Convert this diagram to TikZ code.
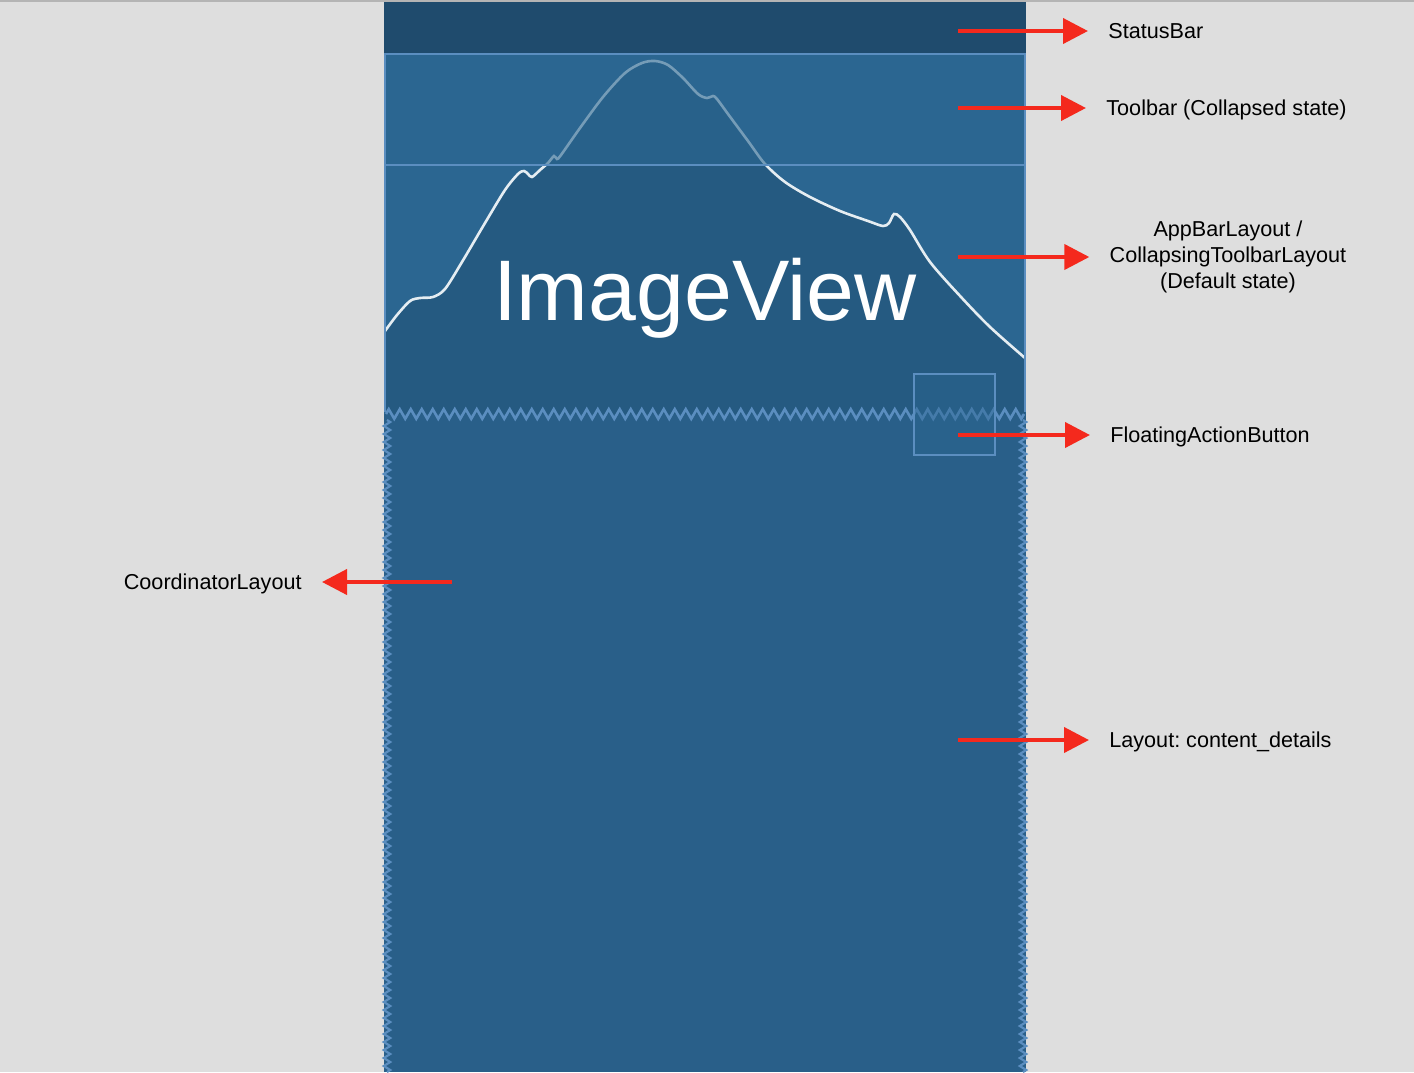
\documentclass[tikz,border=0pt]{standalone}
\usepackage{fontspec}
\setmainfont{Liberation Sans}
\usetikzlibrary{arrows.meta,decorations.pathmorphing}
\frenchspacing
\definecolor{bggray}{HTML}{DEDEDE}
\definecolor{topline}{HTML}{B4B4B4}
\definecolor{statusblue}{HTML}{1F4B6D}
\definecolor{skyblue}{HTML}{2B6691}
\definecolor{hillblue}{HTML}{255A81}
\definecolor{contentblue}{HTML}{295F89}
\definecolor{rimblue}{HTML}{5B8EC0}
\definecolor{arrowred}{HTML}{F4291D}
\newcommand\hillcurve{plot[smooth, tension=0.5] coordinates {(385,331) (397,315) (410,301) (420,298) (433,297) (445,289) (462,262) (485,223) (505,190) (518,174) (524,171) (528,174) (532,177) (540,170) (548,163) (554,156) (557,159) (561,155) (580,128) (603,97) (625,73) (642,63) (655,61) (668,65) (683,78) (698,94) (707,98) (713,96) (717,99) (728,114) (748,141) (765,164) (785,182) (810,197) (840,211) (868,221) (883,226) (889,223) (894,214) (900,217) (910,230) (930,262) (961,297) (990,327) (1025,358)}}

\begin{document}
\begin{tikzpicture}[x=0.5pt, y=-0.5pt,
    callout/.style={draw=arrowred, line width=2pt, -{Triangle[length=12.5pt,width=12.5pt]}, shorten >=10pt},
    tag/.style={font=\fontsize{10.8}{13}\selectfont, inner sep=0pt, text height=7.8pt, text depth=0pt},
    rim/.style={draw=rimblue, line width=1pt},
    topzig/.style={rim, line width=1.3pt, decorate, decoration={zigzag, segment length=5.5pt, amplitude=2.4pt}},
    sidezig/.style={rim, line width=1.1pt, decorate, decoration={zigzag, segment length=4pt, amplitude=1.6pt}},
    fabbox/.style={rim, fill=skyblue, fill opacity=0.45, minimum width=40.5pt, minimum height=40.5pt, inner sep=0pt}]
    \useasboundingbox[fill=bggray] (0,0) rectangle (1414,1072);
    \draw[topline, line width=1pt] (0,1) -- (1414,1);

    \fill[statusblue] (384,2) rectangle (1026,53);
    \fill[skyblue] (384,53) rectangle (1026,414);
    \fill[hillblue] \hillcurve -- (1025,414) -- (385,414) -- cycle;
    \draw[white!88!skyblue, line width=1.3pt] \hillcurve;
    \node[font=\fontsize{43}{50}\selectfont, text=white, anchor=base] (imageview) at (705,320) {ImageView};
    \fill[skyblue, opacity=0.6] (384,53) rectangle (1026,165);

    \fill[contentblue] (384,414) rectangle (1026,1072);
    \draw[rim] (385,412) -- (385,54) -- (1025,54) -- (1025,412);
    \draw[rim] (385,165) -- (1025,165);
    \draw[topzig] (386,414) -- (1024,414);
    \draw[sidezig] (387,420) -- (387,1072);
    \draw[sidezig] (1023,420) -- (1023,1072);
    \node[fabbox] (fab) at (954.5,414.5) {};

    \node[tag, anchor=west] (statusbar) at (1108,31) {StatusBar};
    \node[tag, anchor=west] (toolbar) at (1106,108) {Toolbar (Collapsed state)};
    \node[font=\fontsize{10.8}{13}\selectfont, align=center, inner sep=0pt] (appbar) at (1228,257) {AppBarLayout /\\CollapsingToolbarLayout\\(Default state)};
    \node[tag, anchor=west] (fablabel) at (1110,435) {FloatingActionButton};
    \node[tag, anchor=west] (content) at (1109,740) {Layout: content\_details};
    \node[tag, anchor=east] (coordinator) at (302,582) {CoordinatorLayout};

    \coordinate (sbtail) at (958,31);
    \coordinate (tbtail) at (958,108);
    \coordinate (abtail) at (958,257);
    \coordinate (fabtail) at (958,435);
    \coordinate (cdtail) at (958,740);
    \coordinate (cltail) at (452,582);

    \draw[callout] (sbtail) -- (statusbar.west);
    \draw[callout] (tbtail) -- (toolbar.west);
    \draw[callout] (abtail) -- (appbar.west);
    \draw[callout] (fabtail) -- (fablabel.west);
    \draw[callout] (cdtail) -- (content.west);
    \draw[callout] (cltail) -- (coordinator.east);
\end{tikzpicture}
\end{document}
